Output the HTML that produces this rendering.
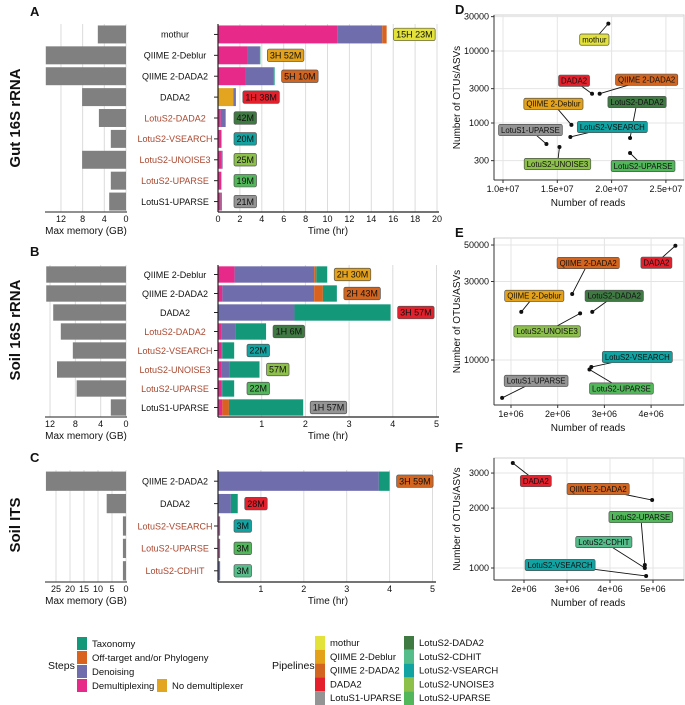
<!DOCTYPE html>
<html><head><meta charset="utf-8">
<style>
html,body{margin:0;padding:0;background:#fff;}
svg{display:block;font-family:"Liberation Sans",Arial,sans-serif;}
</style></head>
<body>
<svg id="fig" width="685" height="705" viewBox="0 0 685 705" xmlns="http://www.w3.org/2000/svg"></svg>
<script>
// ---------- DATA ----------
const catsA = ["mothur","QIIME 2-Deblur","QIIME 2-DADA2","DADA2","LotuS2-DADA2","LotuS2-VSEARCH","LotuS2-UNOISE3","LotuS2-UPARSE","LotuS1-UPARSE"];
const memA = [5.2,14.8,14.8,8.1,5.0,2.8,8.1,2.8,3.1];
const demuxA = [10.9,2.7,2.55,0,0.25,0.3,0.35,0.3,0.25];
const nodemuxA = [0,0,0,1.4,0,0,0,0,0];
const denoiseA = [4.1,1.1,2.55,0.15,0.45,0,0.07,0,0];
const offA = [0.4,0,0,0,0,0,0,0,0];
const taxA = [0,0.07,0.07,0.08,0,0.03,0,0.02,0.1];
const timeLabA = ["15H 23M","3H 52M","5H 10M","1H 38M","42M","20M","25M","19M","21M"];
const memTicksA = [12,8,4,0];
const timeTicksA = [0,2,4,6,8,10,12,14,16,18,20];

const catsB = ["QIIME 2-Deblur","QIIME 2-DADA2","DADA2","LotuS2-DADA2","LotuS2-VSEARCH","LotuS2-UNOISE3","LotuS2-UPARSE","LotuS1-UPARSE"];
const memB = [12.6,12.6,11.5,10.3,8.4,10.9,7.8,2.4];
const demuxB = [0.38,0.1,0,0.07,0.07,0.07,0.07,0.1];
const nodemuxB = [0,0,0,0,0,0,0,0];
const denoiseB = [1.82,2.1,1.75,0.34,0.03,0.19,0.03,0];
const offB = [0.05,0.2,0,0,0,0,0,0.15];
const taxB = [0.25,0.32,2.2,0.69,0.27,0.69,0.27,1.7];
const timeLabB = ["2H 30M","2H 43M","3H 57M","1H 6M","22M","57M","22M","1H 57M"];
const memTicksB = [12,8,4,0];
const timeTicksB = [1,2,3,4,5];

const catsC = ["QIIME 2-DADA2","DADA2","LotuS2-VSEARCH","LotuS2-UPARSE","LotuS2-CDHIT"];
const memC = [28.6,6.9,1.1,1.1,1.1];
const demuxC = [0.01,0,0.02,0.02,0];
const nodemuxC = [0,0,0,0,0];
const denoiseC = [3.74,0.3,0.03,0.03,0.05];
const offC = [0,0,0,0,0];
const taxC = [0.25,0.16,0,0,0];
const timeLabC = ["3H 59M","28M","3M","3M","3M"];
const memTicksC = [25,20,15,10,5,0];
const timeTicksC = [1,2,3,4,5];

const namesD = ["mothur","DADA2","QIIME 2-DADA2","QIIME 2-Deblur","LotuS2-DADA2","LotuS1-UPARSE","LotuS2-VSEARCH","LotuS2-UNOISE3","LotuS2-UPARSE"];
const readsD = [1.97e7,1.82e7,1.89e7,1.63e7,2.17e7,1.40e7,1.62e7,1.52e7,2.17e7];
const otusD = [24000,2550,2550,940,620,510,640,464,383];
const xTicksD = [1.0e7,1.5e7,2.0e7,2.5e7];
const xTickLabD = ["1.0e+07","1.5e+07","2.0e+07","2.5e+07"];
const yTicksD = [300,1000,3000,10000,30000];

const namesE = ["DADA2","QIIME 2-DADA2","QIIME 2-Deblur","LotuS2-DADA2","LotuS2-UNOISE3","LotuS2-VSEARCH","LotuS2-UPARSE","LotuS1-UPARSE"];
const readsE = [4.52e6,2.31e6,1.22e6,2.74e6,2.48e6,2.72e6,2.68e6,0.81e6];
const otusE = [49500,25200,19600,19600,19200,9060,8750,5880];
const xTicksE = [1e6,2e6,3e6,4e6];
const xTickLabE = ["1e+06","2e+06","3e+06","4e+06"];
const yTicksE = [10000,30000,50000];

const namesF = ["DADA2","QIIME 2-DADA2","LotuS2-UPARSE","LotuS2-CDHIT","LotuS2-VSEARCH"];
const readsF = [1.74e6,4.98e6,4.81e6,4.81e6,4.84e6];
const otusF = [3370,2195,1035,1000,912];
const xTicksF = [2e6,3e6,4e6,5e6];
const xTickLabF = ["2e+06","3e+06","4e+06","5e+06"];
const yTicksF = [1000,2000,3000];

// ---------- LAYOUT (not data) ----------
const offsD = [[-14,16],[-18,-13],[47,-14],[-18,-21],[7,-36],[-16,-14],[42,-10],[-2,17],[13,13]];
const offsE = [[-19,17],[16,-31],[13,-16],[22,-16],[-33,18],[46,-10],[32,19],[34,-17]];
const offsF = [[23,18],[-54,-11],[-4,-48],[-41,-26],[-86,-11]];

const stepCol = {demux:"#e7298a",nodemux:"#e3a420",denoise:"#6f6dab",off:"#d9631e",tax:"#13997a"};
const pipeCol = {"mothur":"#e2e23a","QIIME 2-Deblur":"#e3a21a","QIIME 2-DADA2":"#d2651f","DADA2":"#e3202c","LotuS1-UPARSE":"#949494","LotuS2-DADA2":"#3f7a43","LotuS2-CDHIT":"#55bd8a","LotuS2-VSEARCH":"#10a3a2","LotuS2-UNOISE3":"#8cc04b","LotuS2-UPARSE":"#52b65a"};

const NS="http://www.w3.org/2000/svg";
const svg=document.getElementById('fig');
function mk(tag, attrs, name, parent){
  const el=document.createElementNS(NS,tag);
  for(const k in attrs) el.setAttribute(k,attrs[k]);
  
  
  (parent||svg).appendChild(el);
  return el;
}
function txt(x,y,s,name,opt){
  opt=opt||{};
  const el=mk('text',{x:x,y:y,'font-size':opt.size||9,'text-anchor':opt.anchor||'middle',fill:opt.fill||'#111','font-weight':opt.weight||'normal'},name,opt.parent);
  if(opt.rot) el.setAttribute('transform','rotate('+opt.rot+' '+x+' '+y+')');
  el.textContent=s;
  return el;
}
function labelBox(cx,cy,s,col,name,anchorLeft,size){
  const g=mk('g',{},name);
  const t=txt(0,0,s,name+'-text',{size:size||8.5,anchor:'start',parent:g});
  const w=t.getComputedTextLength()+5, h=(size||8.5)+3.5;
  const x0=anchorLeft?cx:cx-w/2;
  const r=mk('rect',{x:x0,y:cy-h/2,width:w,height:h,rx:1.8,fill:col,stroke:'#555','stroke-width':0.7},name+'-box',g);
  g.insertBefore(r,t);
  t.setAttribute('x',x0+2.5);t.setAttribute('y',cy+(size||8.5)*0.36);
  return g;
}

// ---------- BAR PANELS ----------
function barPanel(p){
  const n=p.cats.length, step=(p.bottom-p.top)/n, bh=step*0.86;
  const memX=v=>126-v*p.mk;
  const tX=v=>218+v*p.tk;
  p.memTicks.forEach(t=>{
    mk('line',{x1:memX(t),x2:memX(t),y1:p.top,y2:p.bottom,stroke:'#dcdcdc','stroke-width':1},'memory-gridline');
    txt(memX(t),p.bottom+10,String(t),'memory-tick-label',{size:9});
  });
  txt(86,p.bottom+22,'Max memory (GB)','memory-axis-title',{size:10});
  p.timeTicks.forEach(t=>{
    if(t>0) mk('line',{x1:tX(t),x2:tX(t),y1:p.top,y2:p.bottom,stroke:'#dcdcdc','stroke-width':1},'time-gridline');
    txt(tX(t),p.bottom+10,String(t),'time-tick-label',{size:9});
  });
  txt(328,p.bottom+22,'Time (hr)','time-axis-title',{size:10});
  for(let i=0;i<n;i++){
    const cy=p.top+step*(i+0.5);
    mk('rect',{x:memX(p.mem[i]),y:cy-bh/2,width:p.mem[i]*p.mk,height:bh,fill:'#808080'},'memory-bar');
    const lotus2=p.cats[i].indexOf('LotuS2')===0;
    txt(175,cy+3.3,p.cats[i],'pipeline-label',{size:9,fill:lotus2?'#a9472f':'#111'});
    mk('line',{x1:214,x2:218,y1:cy,y2:cy,stroke:'#222','stroke-width':1},'y-tick');
    let acc=0;
    [['demux',p.demux],['nodemux',p.nodemux],['denoise',p.denoise],['off',p.off],['tax',p.tax]].forEach(([k,arr])=>{
      const v=arr[i]; if(v<=0) return;
      mk('rect',{x:tX(acc),y:cy-bh/2,width:v*p.tk,height:bh,fill:stepCol[k]},'time-bar-'+k);
      acc+=v;
    });
    const lx=Math.max(tX(acc)+7,218+p.minPad);
    labelBox(lx,cy,p.labs[i],pipeCol[p.cats[i]],'time-label',true,9);
  }
  mk('line',{x1:218,x2:218,y1:p.top,y2:p.bottom,stroke:'#222','stroke-width':1.2},'time-y-axis');
  mk('line',{x1:218,x2:p.right,y1:p.bottom,y2:p.bottom,stroke:'#222','stroke-width':1.2},'time-x-axis');
  mk('line',{x1:45,x2:127,y1:p.bottom,y2:p.bottom,stroke:'#222','stroke-width':1},'memory-x-axis');
}
barPanel({cats:catsA,mem:memA,demux:demuxA,nodemux:nodemuxA,denoise:denoiseA,off:offA,tax:taxA,labs:timeLabA,memTicks:memTicksA,timeTicks:timeTicksA,top:24,bottom:212,mk:5.42,tk:10.95,minPad:16,right:439});
barPanel({cats:catsB,mem:memB,demux:demuxB,nodemux:nodemuxB,denoise:denoiseB,off:offB,tax:taxB,labs:timeLabB,memTicks:memTicksB,timeTicks:timeTicksB,top:265,bottom:417,mk:6.33,tk:43.7,minPad:29,right:439});
barPanel({cats:catsC,mem:memC,demux:demuxC,nodemux:nodemuxC,denoise:denoiseC,off:offC,tax:taxC,labs:timeLabC,memTicks:memTicksC,timeTicks:timeTicksC,top:470,bottom:582,mk:2.8,tk:42.9,minPad:16,right:436});

// ---------- SCATTER PANELS ----------
function scatter(p){
  const L=494,R=684;
  const xS=v=>p.x0+(v-p.xa)*p.xk;
  const yS=v=>p.y0-(Math.log10(v)-Math.log10(p.ya))*p.yk;
  mk('rect',{x:L,y:p.top,width:R-L,height:p.bottom-p.top,fill:'#fff',stroke:'#d0d0d0','stroke-width':1},'scatter-panel');
  p.xTicks.forEach((t,i)=>{
    mk('line',{x1:xS(t),x2:xS(t),y1:p.top,y2:p.bottom,stroke:'#e4e4e4','stroke-width':1},'x-gridline');
    mk('line',{x1:xS(t),x2:xS(t),y1:p.bottom,y2:p.bottom+3,stroke:'#333'},'x-tick');
    txt(xS(t),p.bottom+12,p.xLab[i],'x-tick-label',{size:9});
  });
  p.yTicks.forEach(t=>{
    mk('line',{x1:L,x2:R,y1:yS(t),y2:yS(t),stroke:'#e4e4e4','stroke-width':1},'y-gridline');
    mk('line',{x1:L-3,x2:L,y1:yS(t),y2:yS(t),stroke:'#333'},'y-tick');
    txt(L-5,yS(t)+3,String(t),'y-tick-label',{size:9,anchor:'end'});
  });
  mk('line',{x1:L,x2:L,y1:p.top,y2:p.bottom,stroke:'#333','stroke-width':1},'y-axis');
  mk('line',{x1:L,x2:R,y1:p.bottom,y2:p.bottom,stroke:'#333','stroke-width':1},'x-axis');
  txt(588,p.bottom+26,'Number of reads','x-axis-title',{size:10});
  txt(460,(p.top+p.bottom)/2,'Number of OTUs/ASVs','y-axis-title',{size:10,rot:-90});
  p.names.forEach((nm,i)=>{
    const px=xS(p.reads[i]), py=yS(p.otus[i]);
    const lx=px+p.offs[i][0], ly=py+p.offs[i][1];
    mk('line',{x1:px,y1:py,x2:lx,y2:ly,stroke:'#111','stroke-width':0.9},'leader-line');
    mk('circle',{cx:px,cy:py,r:2,fill:'#111'},'point-'+nm.toLowerCase().replace(/[^a-z0-9]+/g,'-'));
  });
  p.names.forEach((nm,i)=>{
    const px=xS(p.reads[i]), py=yS(p.otus[i]);
    labelBox(px+p.offs[i][0],py+p.offs[i][1],nm,pipeCol[nm],'point-label',false,7.8);
  });
}
scatter({names:namesD,reads:readsD,otus:otusD,offs:offsD,xTicks:xTicksD,xLab:xTickLabD,yTicks:yTicksD,top:15,bottom:180,x0:503,xa:1e7,xk:54.3/5e6,y0:123,ya:1000,yk:72});
scatter({names:namesE,reads:readsE,otus:otusE,offs:offsE,xTicks:xTicksE,xLab:xTickLabE,yTicks:yTicksE,top:238,bottom:405,x0:511,xa:1e6,xk:46.7/1e6,y0:360,ya:10000,yk:164.5});
scatter({names:namesF,reads:readsF,otus:otusF,offs:offsF,xTicks:xTicksF,xLab:xTickLabF,yTicks:yTicksF,top:458,bottom:580,x0:524,xa:2e6,xk:43/1e6,y0:568,ya:1000,yk:199});

// ---------- PANEL LETTERS / ROW TITLES ----------
[['A',30,16],['B',30,256],['C',30,462],['D',455,14],['E',455,237],['F',455,452]].forEach(([l,x,y])=>{
  txt(x,y,l,'panel-letter-'+l.toLowerCase(),{size:13,weight:'bold',anchor:'start'});
});
txt(20,118,'Gut 16S rRNA','row-title-gut-16s',{size:15,weight:'bold',rot:-90});
txt(20,330,'Soil 16S rRNA','row-title-soil-16s',{size:15,weight:'bold',rot:-90});
txt(20,525,'Soil ITS','row-title-soil-its',{size:15,weight:'bold',rot:-90});

// ---------- LEGENDS ----------
const stepsLeg=[['Taxonomy','tax'],['Off-target and/or Phylogeny','off'],['Denoising','denoise'],['Demultiplexing','demux']];
txt(48,669,'Steps','steps-legend-title',{size:10.5,anchor:'start'});
stepsLeg.forEach(([s,k],i)=>{
  const y=637+i*14;
  mk('rect',{x:77,y:y,width:10,height:13,fill:stepCol[k]},'steps-legend-swatch');
  txt(92,y+10,s,'steps-legend-entry',{size:9.5,anchor:'start'});
});
mk('rect',{x:157,y:679,width:10,height:13,fill:stepCol.nodemux},'steps-legend-swatch');
txt(172,689,'No demultiplexer','steps-legend-entry',{size:9.5,anchor:'start'});
txt(272,669,'Pipelines','pipelines-legend-title',{size:10.5,anchor:'start'});
const pcol1=['mothur','QIIME 2-Deblur','QIIME 2-DADA2','DADA2','LotuS1-UPARSE'];
const pcol2=['LotuS2-DADA2','LotuS2-CDHIT','LotuS2-VSEARCH','LotuS2-UNOISE3','LotuS2-UPARSE'];
[[pcol1,315],[pcol2,404]].forEach(([arr,x])=>{
  arr.forEach((s,i)=>{
    const y=636+i*13.8;
    mk('rect',{x:x,y:y,width:10,height:13.8,fill:pipeCol[s]},'pipelines-legend-swatch');
    txt(x+15,y+10,s,'pipelines-legend-entry',{size:9.5,anchor:'start'});
  });
});
</script>
</body></html>
